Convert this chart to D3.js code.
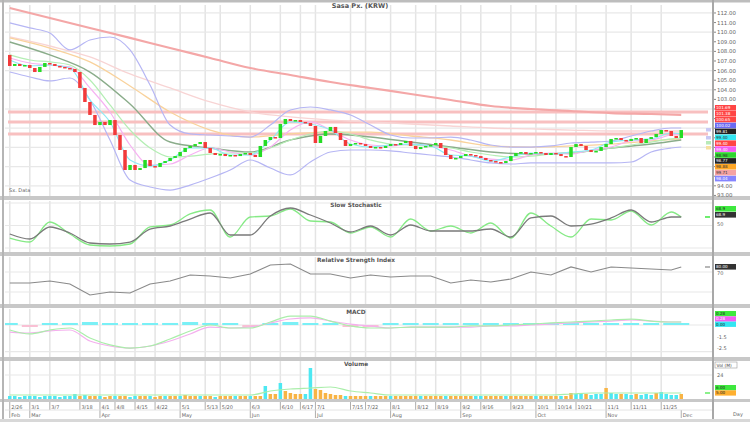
<!DOCTYPE html>
<html><head><meta charset="utf-8">
<script src="https://cdn.jsdelivr.net/npm/d3@7"></script>
<style>body{margin:0;background:#fff}svg{display:block;font-family:"DejaVu Sans",sans-serif}</style>
</head><body><svg id="c" width="750" height="422"></svg>
<script>
// ---------- DATA ----------
const firstOpen = 107.63;
const closes = [106.48,106.69,106.48,106.58,106.27,105.85,106.38,106.79,106.69,106.48,
106.38,106.27,106.17,105.85,104.19,102.73,101.38,100.33,100.65,100.33,
100.85,99.29,97.73,95.65,96.17,95.65,95.85,96.69,96.06,95.96,
96.38,96.58,96.90,97.10,97.52,97.94,98.15,98.35,98.56,97.94,
97.42,97.21,97.31,97.10,97.21,97.10,97.31,97.42,97.21,97.00,
98.15,98.77,99.08,98.98,100.44,100.96,100.75,100.85,100.65,100.54,
100.23,98.46,99.19,99.71,100.13,99.50,98.77,98.15,98.35,98.46,
98.35,98.15,97.94,98.04,97.94,98.15,98.35,98.25,98.46,98.67,
98.15,97.83,98.04,98.15,98.25,98.46,97.94,97.21,96.79,96.90,
97.10,97.31,97.21,97.10,96.90,96.69,96.58,96.48,96.38,96.58,
97.10,97.42,97.52,97.31,97.42,97.52,97.42,97.21,97.42,97.31,
97.10,97.00,98.04,98.35,98.15,97.73,97.52,97.63,98.04,98.35,
98.88,98.98,98.77,98.67,98.88,98.98,98.46,98.88,99.08,99.40,
99.81,99.71,99.19,98.98,99.81];
const volumes = [3,3,2,3,3,3,2,3,3,3,2,3,3,
5,
3,4,3,3,3,2,3,3,3,3,2,3,3,3,3,2,
3,3,3,3,3,4,3,3,3,3,3,2,3,3,3,3,3,3,3,3,3,
13,5,5,16,8,6,5,5,5,31,10,9,6,5,
4,4,3,3,3,3,3,3,3,3,3,3,3,3,3,3,3,3,3,3,3,3,3,3,3,3,3,3,3,3,3,3,3,3,3,3,3,3,3,3,3,3,3,3,3,3,3,
6,5,6,5,4,5,5,11,6,5,5,5,4,5,4,5,4,6,7,5,4,4,5];
const volColor = "cccccccccccccc" +
  "ocoocoocooccoocoocoocooocoocooocoocoo" +
  "coocooooccoooo" +
  "oocoooocooocooooocoooocoooooccoooocooooocoooocoo" +
  "ccocccoccoccocccoccccoc";

const maIdx = [0,8,16,24,32,40,48,56,64,72,80,88,96,104,112,120,128,134];
const ma200 = [112.52,111.48,110.44,109.40,108.35,107.31,106.27,105.54,104.81,104.19,103.56,102.94,102.31,102.00,101.79,101.58,101.48,101.38];
const ma150 = [109.50,108.56,107.42,105.65,104.19,102.73,101.69,101.17,100.85,100.65,100.44,100.23,100.02,99.92,99.81,99.71,99.71,99.71];
const ma100 = [109.40,108.35,106.90,104.40,101.69,99.81,99.08,99.40,99.60,99.60,99.19,98.77,98.15,98.04,98.15,98.35,98.67,98.88];
const ma50  = [108.98,107.63,105.85,102.52,98.56,97.94,97.52,98.77,99.40,99.08,98.56,98.04,97.52,97.31,97.42,97.94,98.35,98.77];

const sampleIdx = [0,4,8,12,16,20,24,28,32,36,40,44,48,52,56,60,64,68,72,76,80,84,88,92,96,100,104,108,112,116,120,124,128,132,134];
const ma20 = [107.63,107.10,106.90,106.58,105.02,102.42,99.81,97.94,97.00,97.10,97.31,97.42,97.42,97.94,98.77,99.40,99.71,99.40,98.77,98.35,98.25,98.15,97.94,97.52,97.21,97.00,97.10,97.31,97.42,97.63,97.94,98.25,98.56,98.88,98.98];
const ma10 = [107.31,106.79,106.58,106.38,104.19,101.69,98.25,96.17,96.27,97.21,97.94,97.52,97.21,98.04,99.81,100.65,99.81,98.77,98.25,98.15,98.35,98.15,97.73,97.10,96.79,96.69,97.21,97.42,97.31,97.73,98.04,98.67,98.77,99.29,99.40];
const ma5  = [107.10,106.48,106.58,106.27,102.94,100.65,96.69,96.06,96.69,97.94,97.94,97.21,97.21,98.77,100.65,100.44,99.81,98.35,98.04,98.25,98.35,98.15,97.21,97.10,96.58,97.00,97.42,97.31,97.52,97.73,98.56,98.77,98.88,99.50,99.40];
const bbUpper = [110.96,110.44,109.92,108.15,109.19,109.50,108.15,104.50,100.33,99.40,99.29,99.19,99.08,100.33,101.90,102.21,101.90,101.38,100.33,99.29,98.98,98.98,99.08,98.77,98.25,98.04,98.04,98.15,98.46,98.56,98.67,99.19,99.71,100.02,100.02];
const bbLower = [105.85,105.33,104.92,105.23,102.94,98.77,94.60,93.88,93.56,94.08,94.81,95.65,96.69,95.85,95.13,96.48,97.52,97.73,97.73,97.63,97.42,97.21,97.00,96.69,96.38,96.27,96.38,96.38,96.38,96.38,96.38,96.48,97.52,97.94,98.04];
const levels = [101.69, 100.65, 99.40];

const stochD = [31.1,20.0,46.7,33.3,11.1,8.9,13.3,42.2,48.9,64.4,77.8,28.9,28.9,71.1,88.9,73.3,55.6,35.6,48.9,28.9,51.1,37.8,37.8,37.8,42.2,24.4,66.7,71.1,48.9,53.3,66.7,84.4,57.8,68.9,68.9];
const stochK = [22.2,13.3,57.8,31.1,6.7,4.4,8.9,46.7,51.1,75.6,84.4,24.4,68.9,71.1,86.7,60.0,57.8,33.3,46.7,24.4,64.4,37.8,48.9,33.3,55.6,22.2,77.8,48.9,24.4,64.4,62.2,82.2,51.1,80.0,68.9];
const rsi = [48,48,52,46,24,30,28,46,52,64,62,58,66,84,86,66,66,58,64,60,62,62,48,54,50,56,70,64,80,70,80,78,76,74,80];
const macdLine = [-0.47,-0.84,-0.47,-0.28,-1.22,-1.87,-2.16,-1.97,-1.31,-0.56,0,-0.28,-0.28,0.28,0.84,0.84,0.37,-0.09,-0.28,-0.28,-0.19,-0.19,-0.19,-0.09,-0.09,0,0.09,0.19,0.28,0.37,0.47,0.56,0.37,0.28,0.28];
const macdSignal = [-0.66,-0.75,-0.56,-0.47,-1.50,-1.97,-2.16,-1.97,-1.50,-0.84,-0.19,-0.28,-0.19,0.19,0.56,0.66,0.37,0.09,-0.09,-0.28,-0.19,-0.19,-0.19,-0.19,-0.09,-0.09,0,0.09,0.19,0.28,0.37,0.47,0.37,0.28,0.28];
const volMA = [4,4,4,4,4,4,4,4,4,4,4,4,4,8,10,11,12,8,6,4,4,4,4,4,4,4,4,4,5,6,6,6,6,6,6];

const priceTicks = [112,111,110,109,108,107,106,105,104,103,102,101,100,99,98,97,96,95,94,93];
const tickIdx = [0,4,8,14,18,21,25,29,34,39,42,48,54,58,61,68,71,76,81,85,90,94,100,105,109,113,119,124,130];
const tickLabels = ["2/26","3/1","3/7","3/18","4/1","4/8","4/15","4/22","5/1","5/13","5/20","6/3","6/10","6/17","7/1","7/15","7/22","8/1","8/12","8/19","9/2","9/16","9/23","10/1","10/14","10/21","11/1","11/11","11/25"];
const monthIdx = [0,4,18,34,48,61,76,90,105,119,134];
const monthLabels = ["Feb","Mar","Apr","May","Jun","Jul","Aug","Sep","Oct","Nov","Dec"];

const boxColors = ["#ff4545","#ff4545","#ff4545","#6a6af2","#222222","#33e6f2","#ff4545","#f25cf2","#2ed62e","#222222","#ffa726","#f5a3a3","#8585ff"];
const boxLabels = ["101.69","101.38","100.65","100.02","99.81","99.40","99.40","99.40","98.98","98.77","98.88","99.71","98.04"];

// ---------- LAYOUT ----------
const svg = d3.select("#c");
const XL = 5, XR = 712;
const P = {main:[5,196], st:[201,252], rsi:[257,304], macd:[309,357], vol:[361,399]};
const x = d3.scaleBand().domain(d3.range(closes.length)).range([8,683]).paddingInner(0.3);
const cx = i => x(i) + x.bandwidth()/2;
const yP = d3.scaleLinear().domain([92.94,112.83]).range([196,5]);
const yS = d3.scaleLinear().domain([0,100]).range([248,203]);
const yR = d3.scaleLinear().domain([0,100]).range([307,257]);
const yM = d3.scaleLinear().domain([-3,1.5]).range([357,309]);
const yV = d3.scaleLinear().domain([0,36]).range([399,363]);

svg.append("rect").attr("width",750).attr("height",422).attr("fill","#fff");

const defs = svg.append("defs");
Object.entries(P).forEach(([k,[t,b]])=>{
  defs.append("clipPath").attr("id","clip-"+k).append("rect").attr("x",XL).attr("y",t).attr("width",XR-XL).attr("height",b-t);
});

// vertical gridlines
Object.entries(P).forEach(([k,[t,b]])=>{
  svg.append("g").selectAll("line").data(tickIdx).join("line")
    .attr("x1",d=>cx(d)).attr("x2",d=>cx(d)).attr("y1",t).attr("y2",b)
    .attr("stroke","#e4e4e4").attr("stroke-width",1.5);
});
svg.append("g").selectAll("line").data(priceTicks.filter(v=>v%2===0)).join("line")
  .attr("x1",XL).attr("x2",XR).attr("y1",d=>yP(d)).attr("y2",d=>yP(d)).attr("stroke","#e8e8e8").attr("stroke-width",1.2);
function hgrid(scale, vals){
  svg.append("g").selectAll("line").data(vals).join("line")
    .attr("x1",XL).attr("x2",XR).attr("y1",d=>scale(d)).attr("y2",d=>scale(d)).attr("stroke","#e8e8e8").attr("stroke-width",1.2);
}
hgrid(yS,[0,50,100]); hgrid(yR,[30,70]); hgrid(yM,[0,-2.5]); hgrid(yV,[24]);

// ---------- MAIN PANEL ----------
const gMain = svg.append("g").attr("clip-path","url(#clip-main)");
gMain.selectAll("line.lv").data(levels).join("line").attr("class","lv")
  .attr("x1",8).attr("x2",708).attr("y1",d=>yP(d)).attr("y2",d=>yP(d))
  .attr("stroke","#f8c0c0").attr("stroke-width",3);

function drawLine(g, idx, vals, scale, color, w, curve){
  const line = d3.line().x((d,k)=>cx(idx[k])).y(d=>scale(d)).curve(curve||d3.curveMonotoneX);
  g.append("path").datum(vals).attr("d",line).attr("fill","none")
    .attr("stroke",color).attr("stroke-width",w);
}
drawLine(gMain, maIdx, ma200, yP, "#f4a7a7", 2.2);
drawLine(gMain, maIdx, ma150, yP, "#f8d4d4", 1.3);
drawLine(gMain, maIdx, ma100, yP, "#f9d29c", 1.3);
drawLine(gMain, sampleIdx, bbUpper, yP, "#b6b6f4", 1.2);
drawLine(gMain, sampleIdx, bbLower, yP, "#b6b6f4", 1.2);
drawLine(gMain, maIdx, ma50, yP, "#8aac8a", 1.4);
drawLine(gMain, sampleIdx, ma20, yP, "#b4eeb4", 1.2);
drawLine(gMain, sampleIdx, ma10, yP, "#f6b2f2", 1.2);
drawLine(gMain, sampleIdx, ma5, yP, "#8eeaf4", 1.2);

const candles = closes.map((c,i)=>({i, o: i===0?firstOpen:closes[i-1], c}));
gMain.selectAll("rect.cd").data(candles).join("rect").attr("class","cd")
  .attr("x",d=>x(d.i)).attr("width",x.bandwidth())
  .attr("y",d=>yP(Math.max(d.o,d.c)))
  .attr("height",d=>Math.max(1.5, Math.abs(yP(d.o)-yP(d.c))))
  .attr("fill",d=>d.c>=d.o?"#25dc25":"#f23a3a");

svg.append("text").attr("x",360).attr("y",8).attr("text-anchor","middle")
  .attr("font-size",6.5).attr("font-weight","bold").attr("fill","#555").text("Sasa Px. (KRW)");
svg.append("text").attr("x",9).attr("y",192).attr("font-size",5).attr("fill","#666").text("Sx.  Data");

// ---------- STOCHASTIC ----------
const gSt = svg.append("g").attr("clip-path","url(#clip-st)");
drawLine(gSt, sampleIdx, stochK, yS, "#86ea86", 1.3);
drawLine(gSt, sampleIdx, stochD, yS, "#7a7a7a", 1.3);
// ---------- RSI ----------
const gR = svg.append("g").attr("clip-path","url(#clip-rsi)");
drawLine(gR, sampleIdx, rsi, yR, "#8a8a8a", 1.2, d3.curveLinear);
// ---------- MACD ----------
const gM = svg.append("g").attr("clip-path","url(#clip-macd)");
const hist = macdLine.map((m,k)=>m - macdSignal[k]);
gM.selectAll("rect.h").data(hist).join("rect").attr("class","h")
  .attr("x",(d,k)=>cx(sampleIdx[k])-8).attr("width",16)
  .attr("y",d=>d>=0? yM(0)-Math.max(2,yM(0)-yM(d)) : yM(0))
  .attr("height",d=>Math.max(2, Math.abs(yM(d)-yM(0))))
  .attr("fill",d=>d>=0?"#7af0f6":"#f9c0d4");
drawLine(gM, sampleIdx, macdSignal, yM, "#f4b0ee", 1.2);
drawLine(gM, sampleIdx, macdLine, yM, "#aaeeaa", 1.2);
// ---------- VOLUME ----------
const gV = svg.append("g").attr("clip-path","url(#clip-vol)");
gV.selectAll("rect.v").data(volumes).join("rect").attr("class","v")
  .attr("x",(d,i)=>x(i)).attr("width",x.bandwidth())
  .attr("y",d=>yV(d)).attr("height",d=>yV(0)-yV(d))
  .attr("fill",(d,i)=>volColor[i]==="c"?"#4de8f2":"#f8b445");
drawLine(gV, sampleIdx, volMA, yV, "#aaeeaa", 1.2);

[["Slow Stochastic",207],["Relative Strength Index",262],["MACD",314],["Volume",366]].forEach(([t,y])=>{
  svg.append("text").attr("x",356).attr("y",y).attr("text-anchor","middle")
    .attr("font-size",5.8).attr("font-weight","bold").attr("fill","#555").text(t);
});

// ---------- FRAME ----------
svg.append("rect").attr("x",0).attr("y",0).attr("width",750).attr("height",2.5).attr("fill","#bdbdbd");
[[196,200],[252,256],[304,308],[357,361],[399,402]].forEach(([a,b])=>{
  svg.append("rect").attr("x",0).attr("y",a).attr("width",750).attr("height",b-a).attr("fill","#c8c8c8");
});
svg.append("rect").attr("x",2).attr("y",0).attr("width",2).attr("height",422).attr("fill","#b5b5b5");
svg.append("rect").attr("x",XR).attr("y",0).attr("width",2).attr("height",422).attr("fill","#a8a8a8");
svg.append("rect").attr("x",0).attr("y",419).attr("width",750).attr("height",3).attr("fill","#d8d8d8");

// ---------- RIGHT AXIS ----------
const ra = svg.append("g");
const boxTop = 105, boxStep = 5.9, boxBottom = boxTop + boxColors.length*boxStep;
const shownTicks = priceTicks.filter(v=>yP(v)<boxTop-2 || yP(v)>boxBottom+2);
ra.selectAll("text.pt").data(shownTicks).join("text").attr("class","pt")
  .attr("x",717).attr("y",d=>yP(d)+2).attr("font-size",5.4).attr("fill","#666")
  .text(d=>d.toFixed(2));
ra.selectAll("line.ptk").data(priceTicks).join("line").attr("class","ptk")
  .attr("x1",XR+2).attr("x2",XR+4).attr("y1",d=>yP(d)).attr("y2",d=>yP(d)).attr("stroke","#888");
function box(y,h,color,label,tc){
  ra.append("rect").attr("x",715).attr("y",y).attr("width",21).attr("height",h).attr("fill",color);
  ra.append("text").attr("x",716).attr("y",y+h-1.3).attr("font-size",4.1).attr("fill",tc||"#fff").text(label);
}
const lightBg = ["#33e6f2","#2ed62e","#ffa726","#f5a3a3"];
boxColors.forEach((c,k)=>box(boxTop+k*boxStep, boxStep-0.3, c, boxLabels[k], lightBg.includes(c)?"#333":"#fff"));
[["#c8c8f4",128],["#c8c8f4",136],["#b8eab8",141],["#f6e0a0",146]].forEach(([c,y])=>{
  ra.append("rect").attr("x",706).attr("y",y).attr("width",5).attr("height",3.5).attr("fill",c);
});
box(206,5.6,"#3ee83e",stochK[stochK.length-1].toFixed(1),"#222");
box(212,5.6,"#333",stochD[stochD.length-1].toFixed(1));
ra.append("text").attr("x",717).attr("y",226).attr("font-size",5).attr("fill","#666").text("50");
ra.append("line").attr("x1",705).attr("x2",710).attr("y1",yS(stochK[stochK.length-1])).attr("y2",yS(stochK[stochK.length-1])).attr("stroke","#3ee83e").attr("stroke-width",1.5);
box(264,5.6,"#333",rsi[rsi.length-1].toFixed(2));
ra.append("text").attr("x",717).attr("y",275).attr("font-size",5).attr("fill","#666").text("70");
ra.append("line").attr("x1",705).attr("x2",710).attr("y1",yR(rsi[rsi.length-1])).attr("y2",yR(rsi[rsi.length-1])).attr("stroke","#888").attr("stroke-width",1.2);
box(311,5.3,"#3ee83e",macdLine[macdLine.length-1].toFixed(2),"#222");
box(316.3,5.3,"#f25cf2",macdSignal[macdSignal.length-1].toFixed(2));
box(321.6,5.3,"#33e6f2",hist[hist.length-1].toFixed(2),"#222");
ra.append("text").attr("x",717).attr("y",339).attr("font-size",5).attr("fill","#666").text("-1.5");
ra.append("text").attr("x",717).attr("y",350).attr("font-size",5).attr("fill","#666").text("-2.5");
ra.append("rect").attr("x",715).attr("y",362).attr("width",22).attr("height",6).attr("fill","#fff").attr("stroke","#999").attr("stroke-width",0.6);
ra.append("text").attr("x",716.5).attr("y",366.6).attr("font-size",4.4).attr("fill","#444").text("Vol (M)");
ra.append("text").attr("x",717).attr("y",yV(24)+2).attr("font-size",5).attr("fill","#666").text("24");
box(385,5.3,"#3ee83e",volMA[volMA.length-1].toFixed(2),"#222");
box(390.3,5.3,"#ffb030",volumes[volumes.length-1].toFixed(2),"#222");
ra.append("line").attr("x1",705).attr("x2",710).attr("y1",yV(volMA[volMA.length-1])).attr("y2",yV(volMA[volMA.length-1])).attr("stroke","#3ee83e").attr("stroke-width",1.2);

// ---------- X AXIS ----------
const xa = svg.append("g");
xa.selectAll("line.tk").data(tickIdx).join("line").attr("class","tk")
  .attr("x1",d=>cx(d)).attr("x2",d=>cx(d)).attr("y1",402).attr("y2",410).attr("stroke","#999").attr("stroke-width",0.8);
xa.selectAll("text.tl").data(tickIdx).join("text").attr("class","tl")
  .attr("x",d=>cx(d)+1.5).attr("y",408.5).attr("font-size",5).attr("fill","#666")
  .text((d,k)=>tickLabels[k]);
xa.selectAll("line.mk").data(monthIdx).join("line").attr("class","mk")
  .attr("x1",d=>cx(d)).attr("x2",d=>cx(d)).attr("y1",410).attr("y2",418).attr("stroke","#999").attr("stroke-width",0.8);
xa.selectAll("text.ml").data(monthIdx).join("text").attr("class","ml")
  .attr("x",d=>cx(d)+1.5).attr("y",416.5).attr("font-size",5).attr("fill","#666")
  .text((d,k)=>monthLabels[k]);
xa.append("line").attr("x1",XL).attr("x2",XR).attr("y1",410).attr("y2",410).attr("stroke","#ddd").attr("stroke-width",0.8);
xa.append("text").attr("x",733).attr("y",416).attr("font-size",5).attr("fill","#666").text("Day");
</script></body></html>
